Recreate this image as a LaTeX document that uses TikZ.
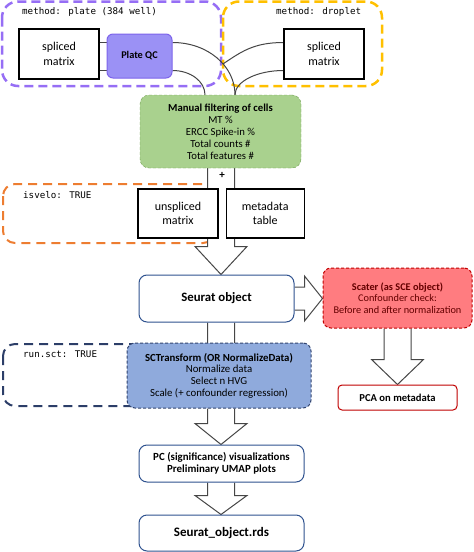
\documentclass[tikz,border=0pt]{standalone}
\usepackage{fontspec}
\setmainfont{Carlito}
\newfontfamily\codefont{DejaVu Sans Mono}
\usetikzlibrary{positioning, calc, backgrounds}
\definecolor{clPurple}    {RGB}{150,110,245}
\definecolor{clPurpleFill}{RGB}{155,145,245}
\definecolor{clPurpleBd}  {RGB}{125,100,235}
\definecolor{clYellow}    {RGB}{255,192,  0}
\definecolor{clOrange}    {RGB}{237,125, 49}
\definecolor{clNavy}      {RGB}{ 44, 62,104}
\definecolor{clGreen}     {RGB}{169,209,142}
\definecolor{clGreenBd}   {RGB}{112,160, 80}
\definecolor{clBlueBd}    {RGB}{ 47, 82,143}
\definecolor{clSct}       {RGB}{143,170,220}
\definecolor{clSctBd}     {RGB}{ 50, 68,110}
\definecolor{clRed}       {RGB}{255,124,128}
\definecolor{clRedBd}     {RGB}{192,  0,  0}
\definecolor{clRedTxt}    {RGB}{100,  0,  0}
\definecolor{clWire}      {RGB}{ 70, 70, 70}
\tikzset{
  base/.style={
    align=center, inner sep=0pt, font=\fontsize{10.7}{12}\selectfont
  },
  matbox/.style={
    base, rectangle, draw=black, line width=1.2pt, fill=white,
    minimum width=80pt, minimum height=50pt,
    font=\fontsize{12}{14.5}\selectfont
  },
  qcbox/.style={
    base, rectangle, rounded corners=6pt,
    minimum width=65pt, minimum height=44pt,
    fill=clPurpleFill, draw=clPurpleBd, line width=1pt,
    font=\bfseries\fontsize{10.3}{12}\selectfont
  },
  filterbox/.style={
    base, rectangle, rounded corners=9pt,
    minimum width=161pt, minimum height=73pt,
    fill=clGreen, draw=clGreenBd, dash pattern=on 3pt off 2pt
  },
  objbox/.style={
    base, rectangle, rounded corners=8pt,
    fill=white, draw=clBlueBd, line width=1pt
  },
  sctbox/.style={
    base, rectangle, rounded corners=8pt,
    minimum width=184pt, minimum height=65pt,
    fill=clSct, draw=clSctBd, line width=1pt, dash pattern=on 3pt off 2pt,
    font=\fontsize{10.8}{11.7}\selectfont
  },
  scaterbox/.style={
    base, rectangle, rounded corners=8pt,
    minimum width=149pt, minimum height=60pt,
    fill=clRed, draw=clRedBd, line width=1pt, dash pattern=on 3pt off 2pt,
    text=clRedTxt, font=\fontsize{10.3}{11.7}\selectfont
  },
  pcabox/.style={
    base, rectangle, rounded corners=4pt,
    minimum width=119pt, minimum height=25pt,
    fill=white, draw=clRedBd, text=black, line width=1pt,
    font=\bfseries\fontsize{10.6}{12}\selectfont
  },
  method/.style={
    line width=2.5pt, dash pattern=on 9pt off 5pt, rounded corners=16pt
  },
  code/.style={
    anchor=west, inner sep=0pt, font=\codefont\fontsize{9.2}{10}\selectfont
  },
  wire/.style={
    draw=clWire, line width=1pt
  },
  blkdown/.style={
    draw=clWire, line width=1pt, fill=white, line join=miter,
    to path={($(\tikztostart)+(-13.5,0)$) -- ($(\tikztotarget)+(-13.5,-#1)$)
      -- ($(\tikztotarget)+(-26,-#1)$) -- (\tikztotarget)
      -- ($(\tikztotarget)+(26,-#1)$) -- ($(\tikztotarget)+(13.5,-#1)$)
      -- ($(\tikztostart)+(13.5,0)$)}
  },
  blkdown/.default=27,
  blkright/.style={
    draw=clWire, line width=1pt, fill=white, line join=miter,
    to path={($(\tikztostart)+(0,-11.5)$) -- ($(\tikztotarget)+(-18,-11.5)$)
      -- ($(\tikztotarget)+(-18,-22.5)$) -- (\tikztotarget)
      -- ($(\tikztotarget)+(-18,22.5)$) -- ($(\tikztotarget)+(-18,11.5)$)
      -- ($(\tikztostart)+(0,11.5)$)}
  }
}

\begin{document}
\begin{tikzpicture}[x=1pt, y=-1pt]
    \useasboundingbox (0,0) rectangle (474,552);

    % ============================================================
    % INPUT NODES
    % ============================================================
    \node (splL) [matbox] at (59,54) {spliced\\matrix};
    \node (plateqc) [qcbox] at (139.5,56) {Plate QC};
    \node (splR) [matbox] at (324,54) {spliced\\matrix};

    \node (filter) [filterbox] at (220.5,131.5) {
      \textbf{Manual filtering of cells}\\
      MT \%\\
      ERCC Spike-in \%\\
      Total counts \#\\
      Total features \#
    };
    \node (plus) [base, font=\bfseries\fontsize{11}{12}\selectfont] at (222,175) {+};

    \node (unspl) [matbox, minimum height=49pt] at (178,213.5) {unspliced\\matrix};
    \node (meta) [matbox, minimum width=78pt, minimum height=49pt, right=7pt of unspl] {metadata\\table};

    % ============================================================
    % MAIN FLOW NODES
    % ============================================================
    \node (seurat) [objbox, minimum width=155pt, minimum height=47pt,
      font=\bfseries\fontsize{12.8}{14}\selectfont] at (216.5,298.5) {Seurat object};

    \node (scater) [scaterbox] at (397.5,298) {
      \textbf{Scater (as SCE object)}\\
      Confounder check:\\
      Before and after normalization
    };
    \node (pca) [pcabox, below=56pt of scater] {PCA on metadata};

    \node (sct) [sctbox] at (219,375.5) {
      \textbf{SCTransform (OR NormalizeData)}\\
      Normalize data\\
      Select n HVG\\
      Scale (+ confounder regression)
    };

    \node (pcvis) [objbox, minimum width=165pt, minimum height=37pt,
      font=\bfseries\fontsize{10.9}{11.7}\selectfont] at (221.5,463.5) {
      PC (significance) visualizations\\
      Preliminary UMAP plots
    };
    \node (rds) [objbox, minimum width=165pt, minimum height=36pt,
      font=\bfseries\fontsize{13}{14}\selectfont, below=32pt of pcvis] {Seurat\_object.rds};

    % ============================================================
    % OPTION LABELS
    % ============================================================
    \node (lblPlate) [code] at (22,12) {method: plate (384 well)};
    \node (lblDrop) [code] at (276,12) {method: droplet};
    \node (lblVelo) [code] at (23,195) {isvelo: TRUE};
    \node (lblSct) [code] at (23,354) {run.sct: TRUE};

    % ============================================================
    % CONNECTIONS
    % ============================================================
    \coordinate (rowA) at (0,42.5);
    \coordinate (rowB) at (0,70.5);
    \coordinate (inA) at (205,0);
    \coordinate (inB) at (235,0);
    \coordinate (join) at (222.9,64);
    \coordinate (spine) at (221,0);

    \begin{scope}[on background layer]
      % Option frames
      \draw [method, draw=clPurple] (2,1.5) rectangle (221,86);
      \draw [method, draw=clYellow] (223,1.5) rectangle (382,86);
      \draw [method, draw=clOrange, line width=2pt, dash pattern=on 9pt off 6pt, rounded corners=12pt] (3,184) rectangle (215,243);
      \draw [method, draw=clNavy, line width=2pt, dash pattern=on 9pt off 6pt, rounded corners=12pt] (3,344) rectangle (150,406);

      % Matrices into filtering
      \draw [wire] (splL.east |- rowA) -- (plateqc.west |- rowA);
      \draw [wire] (splL.east |- rowB) -- (plateqc.west |- rowB);
      \draw [wire] (plateqc.east |- rowA) .. controls +(35,0) and +(0,-29) .. (filter.north -| inB);
      \draw [wire] (plateqc.east |- rowB) .. controls +(18,0) and +(0,-13.5) .. (filter.north -| inA);
      \draw [wire] (splR.west |- rowA) .. controls +(-30,0) and +(18,-12) .. (join);
      \draw [wire] (splR.west |- rowB) .. controls +(-26,0) and +(0,-13.5) .. (filter.north -| inB);

      % Block arrows
      \draw [blkdown=28] (spine |- filter.south) to (spine |- seurat.north);
      \draw [blkdown] (spine |- seurat.south) to (spine |- sct.center);
      \draw [blkdown=21] (spine |- sct.south) to (spine |- pcvis.north);
      \draw [blkdown=19] (spine |- pcvis.south) to (spine |- rds.north);
      \draw [blkright] (seurat.east) to (scater.west |- seurat.east);
      \draw [blkdown=25] (scater.south) to (scater.south |- pca.north);
    \end{scope}

\end{tikzpicture}
\end{document}
